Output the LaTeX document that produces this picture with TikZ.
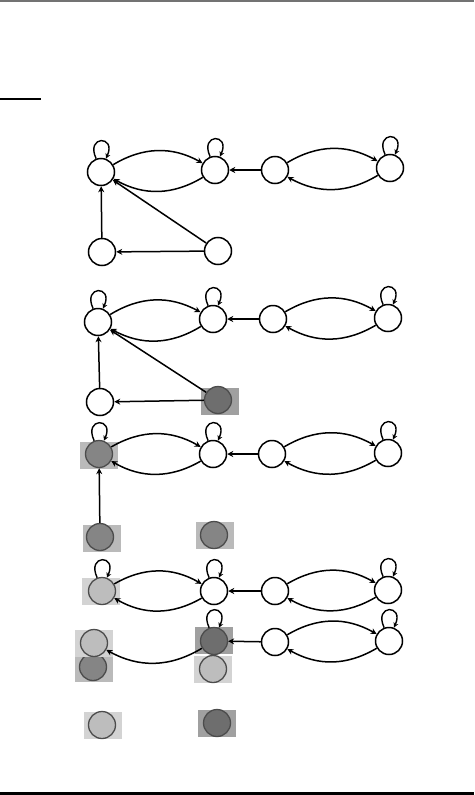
\documentclass[tikz,border=0pt]{standalone}
\usetikzlibrary{arrows.meta}
\definecolor{fdark}{HTML}{6E6E6E}
\definecolor{bdark}{HTML}{A0A0A0}
\definecolor{fmid}{HTML}{858585}
\definecolor{bmid}{HTML}{BABABA}
\definecolor{flight}{HTML}{BDBDBD}
\definecolor{blight}{HTML}{D3D3D3}
\begin{document}
\begin{tikzpicture}[x=1pt,y=-1pt,
  st/.style={circle,draw=black,line width=1.5pt,minimum size=27pt,inner sep=0pt,fill=white},
  sh/.style={circle,draw=black!70,line width=1.3pt,minimum size=27pt,inner sep=0pt},
  bg/.style={rectangle,minimum width=38pt,minimum height=27pt,inner sep=0pt,draw=none},
  ed/.style={line width=1.5pt,-{Stealth[length=6pt,width=6pt]}},
  lp/.style={line width=1.4pt,-{Stealth[length=5pt,width=5pt]}}]
\useasboundingbox (0,0) rectangle (474,795);
\fill[white] (0,0) rectangle (474,795);
% rules
\fill[black!55] (0,0) rectangle (474,2);
\fill[black] (0,98) rectangle (41,100);
\fill[black] (0,792) rectangle (474,795);

% ---------- graph 1
\node[st] (A1) at (101,172) {};
\node[st] (B1) at (215,170) {};
\node[st] (C1) at (275,170) {};
\node[st] (D1) at (390,168) {};
\node[st] (E1) at (102,252) {};
\node[st] (F1) at (218,251) {};
\draw[ed] (A1) to[bend left=30] (B1);
\draw[ed] (B1) to[bend left=30] (A1);
\draw[ed] (C1) -- (B1);
\draw[ed] (C1) to[bend left=30] (D1);
\draw[ed] (D1) to[bend left=30] (C1);
\draw[ed] (E1) -- (A1);
\draw[ed] (F1) -- (A1);
\draw[ed] (F1) -- (E1);
\foreach \n in {A1,B1,D1}
  \draw[lp] (\n.110) .. controls +(245:26) and +(295:26) .. (\n.70);

% ---------- graph 2
\node[bg,fill=bdark] (F2b) at (220,401) {};
\node[st] (A2) at (98,322) {};
\node[st] (B2) at (213,319) {};
\node[st] (C2) at (273,319) {};
\node[st] (D2) at (388,318) {};
\node[st] (E2) at (100,402) {};
\node[sh,fill=fdark] (F2) at (218,400) {};
\draw[ed] (A2) to[bend left=30] (B2);
\draw[ed] (B2) to[bend left=30] (A2);
\draw[ed] (C2) -- (B2);
\draw[ed] (C2) to[bend left=30] (D2);
\draw[ed] (D2) to[bend left=30] (C2);
\draw[ed] (E2) -- (A2);
\draw[ed] (F2) -- (A2);
\draw[ed] (F2) -- (E2);
\foreach \n in {A2,B2,D2}
  \draw[lp] (\n.110) .. controls +(245:26) and +(295:26) .. (\n.70);

% ---------- graph 3
\node[bg,fill=bmid] (A3b) at (99,455) {};
\node[bg,fill=bmid] (E3b) at (102,538) {};
\node[bg,fill=bmid] (F3b) at (215,535) {};
\node[sh,fill=fmid] (A3) at (99,454) {};
\node[st] (B3) at (213,454) {};
\node[st] (C3) at (272,454) {};
\node[st] (D3) at (388,453) {};
\node[sh,fill=fmid] (E3) at (100,537) {};
\node[sh,fill=fmid] (F3) at (214,535) {};
\draw[ed] (A3) to[bend left=30] (B3);
\draw[ed] (B3) to[bend left=30] (A3);
\draw[ed] (C3) -- (B3);
\draw[ed] (C3) to[bend left=30] (D3);
\draw[ed] (D3) to[bend left=30] (C3);
\draw[ed] (E3) -- (A3);
\foreach \n in {A3,B3,D3}
  \draw[lp] (\n.110) .. controls +(245:26) and +(295:26) .. (\n.70);

% ---------- graph 4
\node[bg,fill=blight] (A4b) at (101,591) {};
\node[sh,fill=flight] (A4) at (102,591) {};
\node[st] (B4) at (214,591) {};
\node[st] (C4) at (275,591) {};
\node[st] (D4) at (388,590) {};
\draw[ed] (A4) to[bend left=30] (B4);
\draw[ed] (B4) to[bend left=30] (A4);
\draw[ed] (C4) -- (B4);
\draw[ed] (C4) to[bend left=30] (D4);
\draw[ed] (D4) to[bend left=30] (C4);
\foreach \n in {A4,B4,D4}
  \draw[lp] (\n.110) .. controls +(245:26) and +(295:26) .. (\n.70);

% ---------- graph 5
\node[bg,fill=bmid] (G5b) at (94,668) {};
\node[sh,fill=fmid] (G5) at (93,667) {};
\node[bg,fill=blight] (A5b) at (94,643) {};
\node[sh,fill=flight] (A5) at (94,643) {};
\node[bg,fill=blight] (H5b) at (213,669) {};
\node[sh,fill=flight] (H5) at (213,669) {};
\node[bg,fill=bdark] (B5b) at (214,640) {};
\node[sh,fill=fdark] (B5) at (214,641) {};
\node[st] (C5) at (275,642) {};
\node[st] (D5) at (389,641) {};
\node[bg,fill=blight] (E5b) at (103,725) {};
\node[sh,fill=flight] (E5) at (102,725) {};
\node[bg,fill=bdark] (F5b) at (217,723) {};
\node[sh,fill=fdark] (F5) at (217,723) {};
\draw[ed] (B5) to[bend left=30] (A5);
\draw[ed] (C5) -- (B5);
\draw[ed] (C5) to[bend left=30] (D5);
\draw[ed] (D5) to[bend left=30] (C5);
\foreach \n in {B5,D5}
  \draw[lp] (\n.110) .. controls +(245:26) and +(295:26) .. (\n.70);
\end{tikzpicture}
\end{document}
